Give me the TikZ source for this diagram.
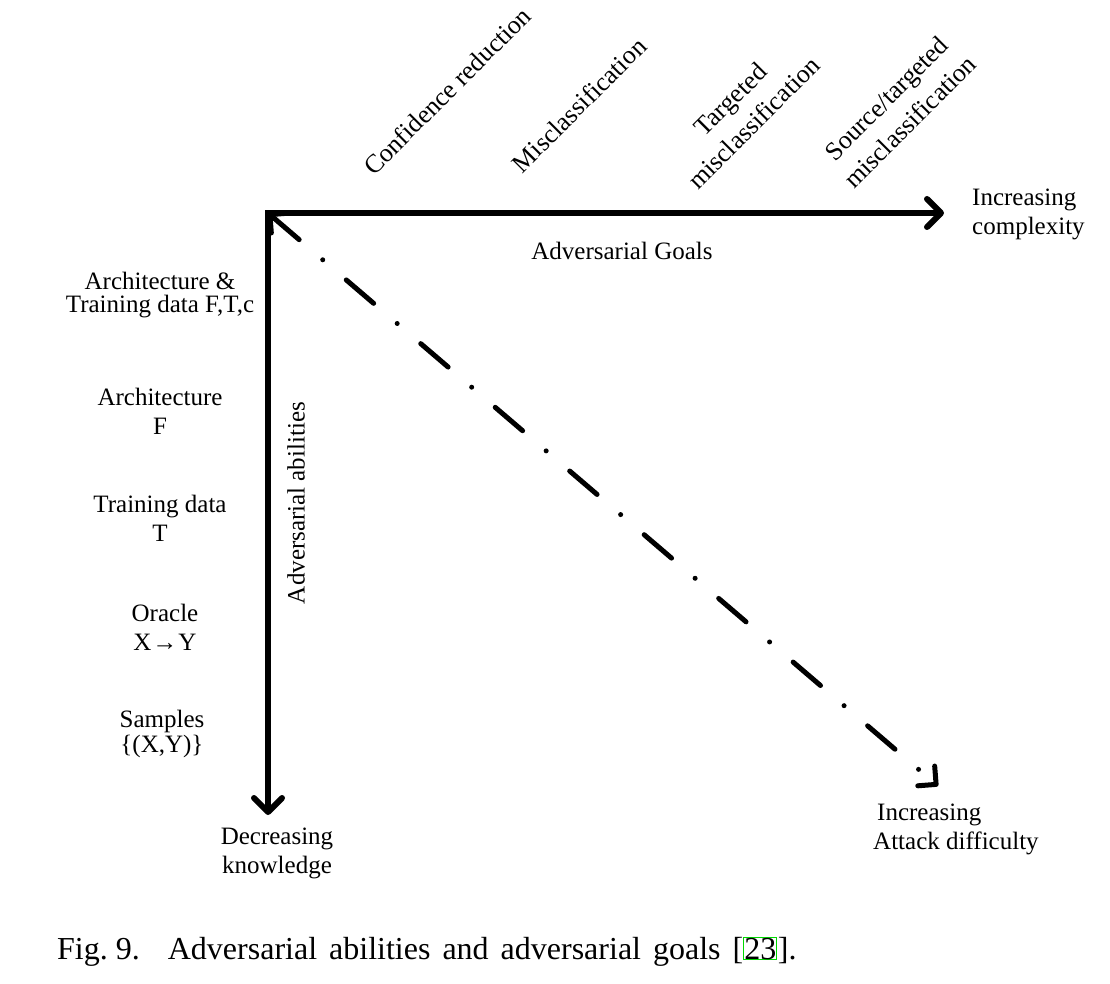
\documentclass[tikz,border=0pt]{standalone}
\usepackage{fontspec}
\setmainfont{Liberation Serif}
\usetikzlibrary{arrows.meta}
\begin{document}
\begin{tikzpicture}[x=1pt,y=-1pt,
  lbl/.style={font=\fontsize{25}{29}\selectfont, align=center, inner sep=0pt},
  rlbl/.style={font=\fontsize{26}{33}\selectfont, align=center, inner sep=0pt, rotate=45},
  lblL/.style={font=\fontsize{25}{29}\selectfont, align=left, inner sep=0pt, anchor=west},
  capfont/.style={font=\fontsize{32}{36}\selectfont, anchor=base west},
  axis/.style={line width=6pt, line join=miter},
  diag/.style={line width=5pt, line cap=round, dash pattern=on 36pt off 31pt on 0pt off 31pt},
  axtip/.tip={Straight Barb[length=14pt,width=28pt,round]},
  dgtip/.tip={Straight Barb[length=13pt,width=26pt,round]}
]
\useasboundingbox (0,0) rectangle (1110,984);

\coordinate (O) at (268,213);
\coordinate (E) at (944,213);
\coordinate (S) at (268,815);
\coordinate (D) at (938,786);

% axes
\draw[axis, {axtip}-{axtip}] (E) -- (O) -- (S);
% diagonal
\draw[diag, {dgtip}-{dgtip}] (O) -- (D);

% goal labels
\node[rlbl] (g1) at (447,91) {Confidence reduction};
\node[rlbl] (g2) at (579,105) {Misclassification};
\node[rlbl] (g3) at (742,111) {Targeted\\misclassification};
\node[rlbl] (g4) at (898,110) {Source/targeted\\misclassification};

\node[lblL] (cx) at (972,214) {Increasing\\complexity};
\node[lbl] (ag) at (622,251) {Adversarial Goals};

% ability labels
\node[lbl] (a1) at (160,295) {Architecture \&\\[-6pt]Training data F,T,c};
\node[lbl] (a2) at (160,411) {Architecture\\F};
\node[lbl] (a3) at (160,518) {Training data\\T};
\node[lbl] (a4) at (165,627) {Oracle\\X\kern1pt→\kern1ptY};
\node[lbl] (a5) at (162,734) {Samples\\[-4pt]\{(X,Y)\}};

\node[lbl, rotate=90] (ab) at (296,503) {Adversarial abilities};
\node[lbl] (dk) at (277,853) {Decreasing\\knowledge};
\node[lblL] (ad) at (873,829) {\hspace{4pt}Increasing\\Attack difficulty};

% caption
\node[capfont, inner sep=0pt] (cap)
  at (57,959) {Fig.\hspace{8pt}9.\hspace{28pt}{\spaceskip=12pt\relax Adversarial abilities and adversarial goals [}};
\node[capfont, inner sep=0.5pt, draw=green!85!black, line width=0.8pt] (ref)
  at (cap.base east) {23};
\node[capfont, inner sep=0pt] (cap2) at ([xshift=0.5pt]ref.base east) {].};
\end{tikzpicture}
\end{document}
